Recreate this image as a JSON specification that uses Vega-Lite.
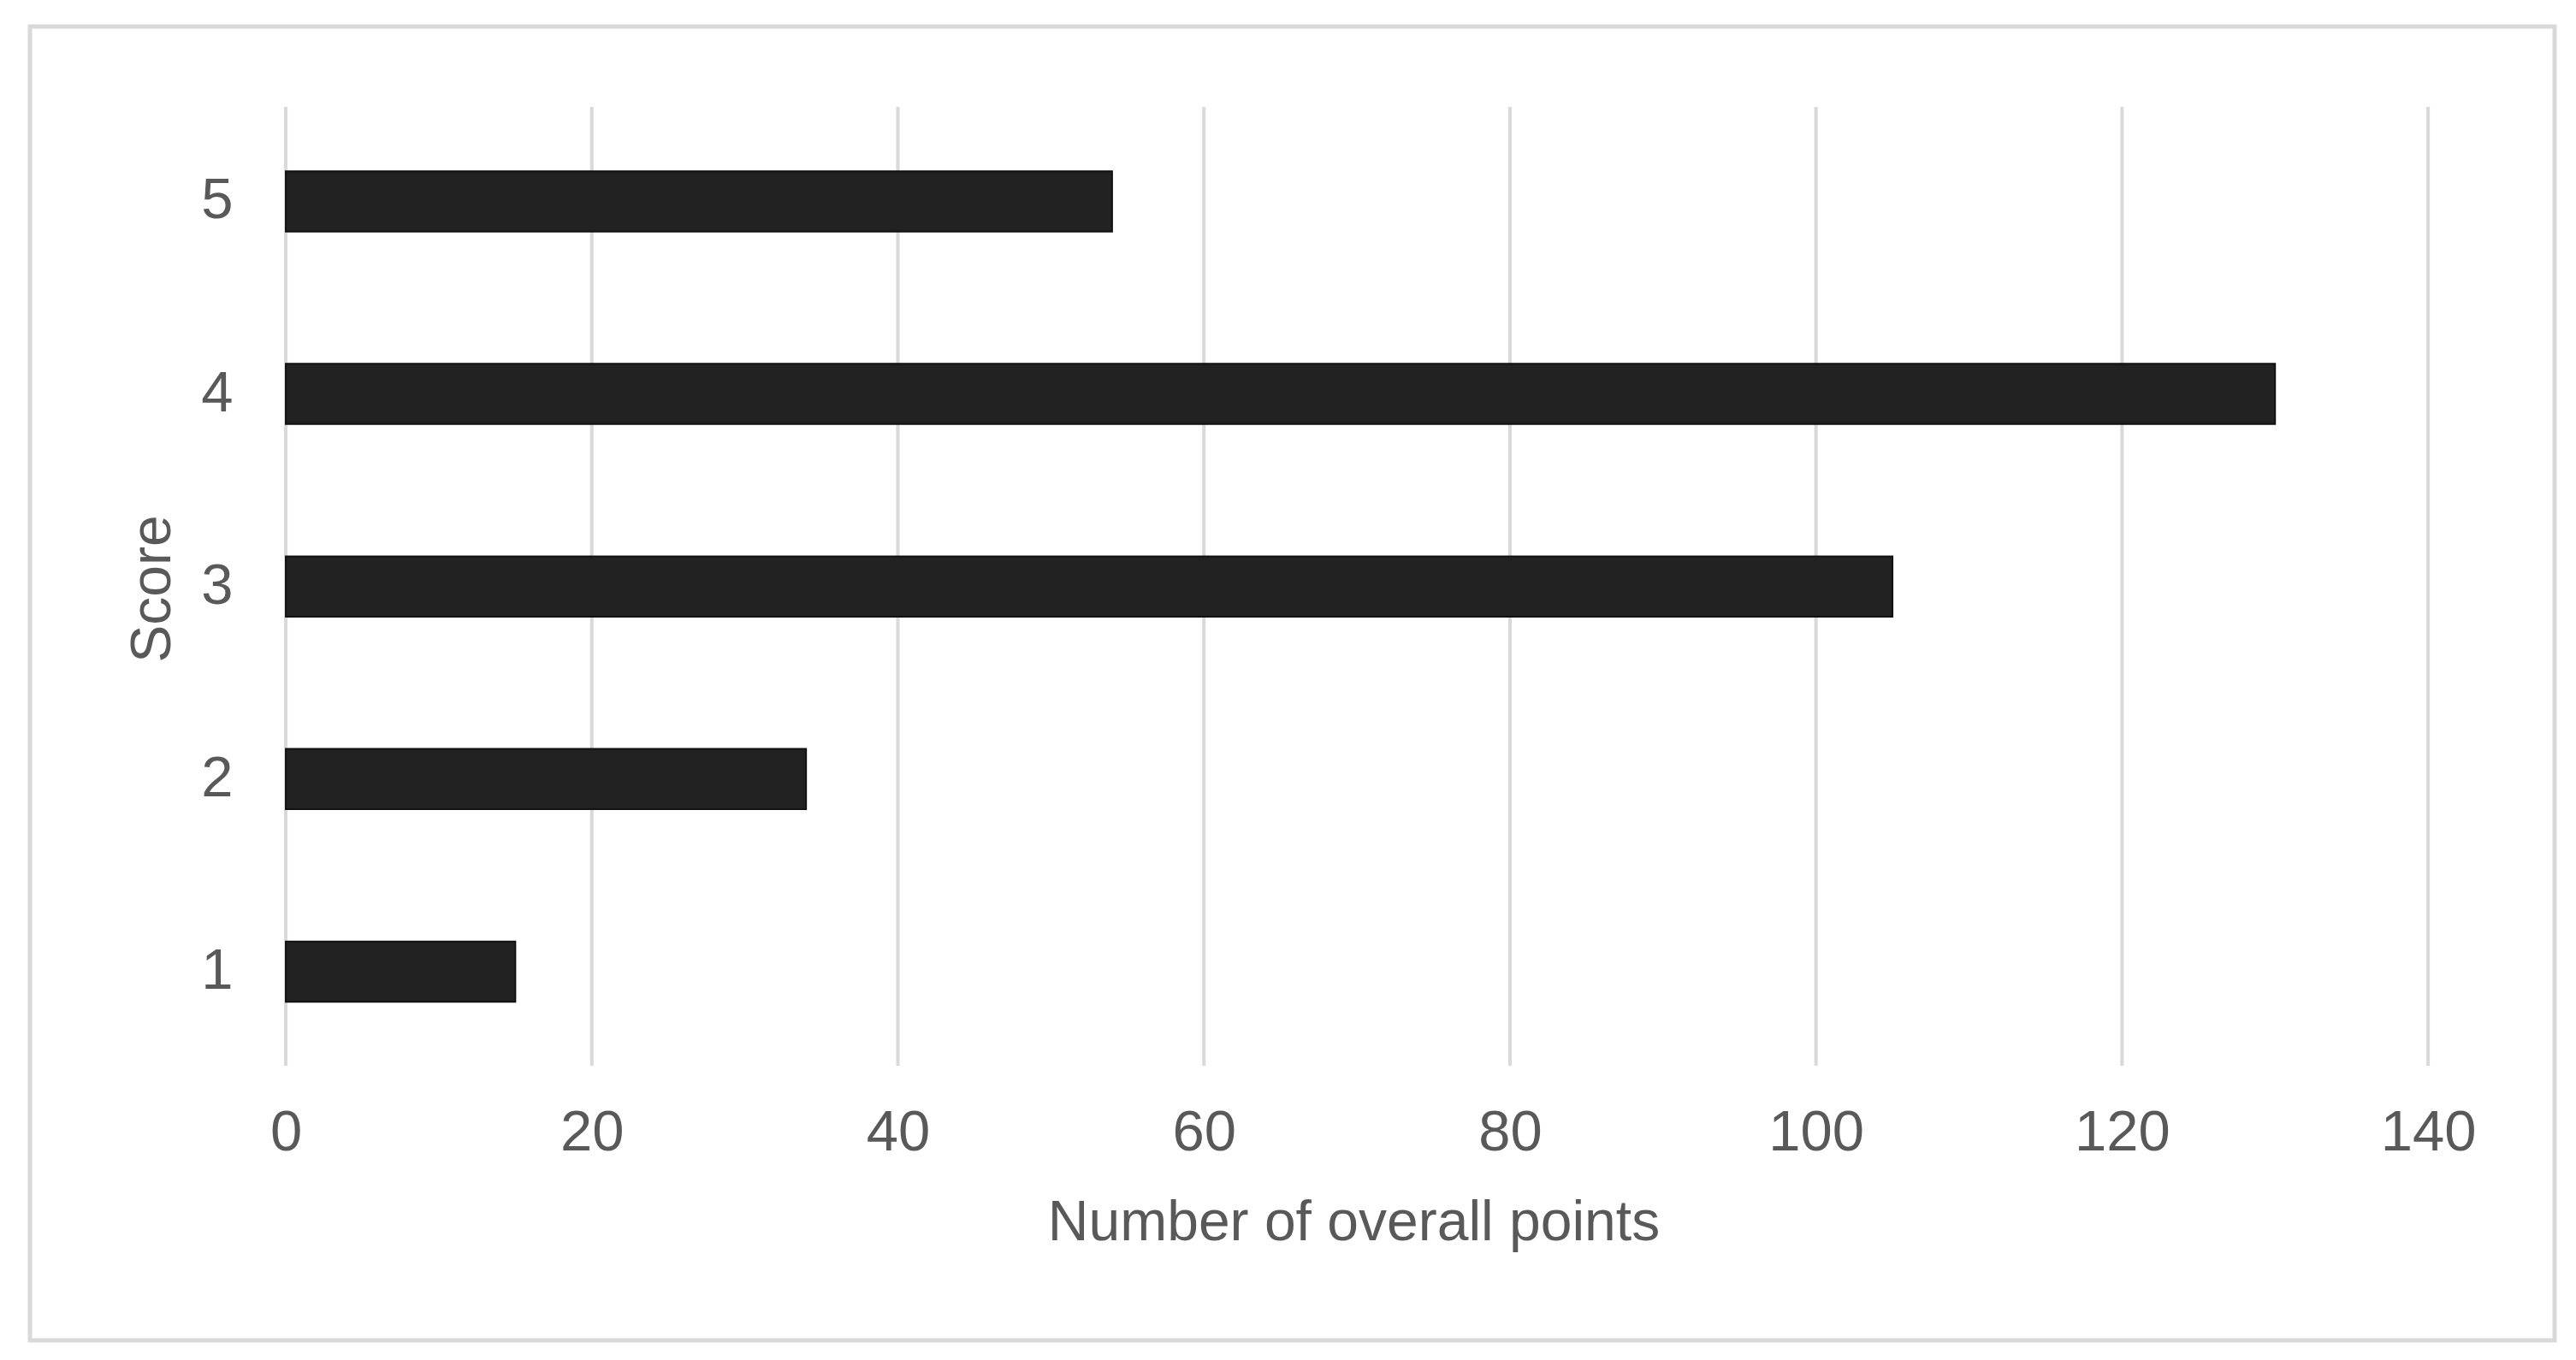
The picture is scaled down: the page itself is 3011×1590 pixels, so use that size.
{
  "$schema": "https://vega.github.io/schema/vega-lite/v6.json",
  "width": 2951,
  "height": 1536,
  "autosize": {"type": "none"},
  "padding": {"left": 35, "top": 31, "right": 25, "bottom": 23},
  "background": "white",
  "config": {
    "view": {"stroke": "#d9d9d9", "strokeWidth": 5},
    "font": "Liberation Sans"
  },
  "layer": [
    {
      "data": {"values": [{"tick": 0}, {"tick": 20}, {"tick": 40}, {"tick": 60}, {"tick": 80}, {"tick": 100}, {"tick": 120}, {"tick": 140}]},
      "mark": {"type": "rule", "color": "#d9d9d9", "strokeWidth": 4},
      "encoding": {
        "x": {"field": "tick", "type": "quantitative", "title": "Number of overall points",
              "scale": {"domain": [-16.72, 148.27], "nice": false, "zero": false}},
        "y": {"datum": 5, "type": "ordinal", "bandPosition": -0.0963, "title": "Score",
              "scale": {"domain": [5, 4, 3, 2, 1], "paddingInner": 0.177, "paddingOuter": 1, "align": 0.2484}},
        "y2": {"datum": 1, "bandPosition": 1.094}
      }
    },
    {
      "data": {"values": [
        {"Score": 5, "Points": 54},
        {"Score": 4, "Points": 130},
        {"Score": 3, "Points": 105},
        {"Score": 2, "Points": 34},
        {"Score": 1, "Points": 15}
      ]},
      "mark": {"type": "bar", "color": "#222222", "stroke": "#111111", "strokeWidth": 2, "height": {"band": 0.3805}},
      "encoding": {
        "y": {
          "field": "Score", "type": "ordinal", "title": "Score",
          "scale": {"domain": [5, 4, 3, 2, 1], "paddingInner": 0.177, "paddingOuter": 1, "align": 0.2484},
          "axis": {
            "title": "Score", "grid": false, "domain": false, "ticks": false, "tickSize": 0,
            "offset": -244, "labelPadding": 7, "labelFontSize": 67, "labelColor": "#595959",
            "labelFont": "Liberation Sans", "labelAlign": "right", "labelBaseline": "middle",
            "titleFontSize": 66, "titleFontWeight": "normal", "titleColor": "#595959", "titleFont": "Liberation Sans",
            "titleX": -101, "titleY": 657, "titleAngle": 270, "titleBaseline": "middle", "titleAlign": "center"
          }
        },
        "x": {
          "field": "Points", "type": "quantitative", "title": "Number of overall points",
          "scale": {"domain": [-16.72, 148.27], "nice": false, "zero": false},
          "axis": {
            "title": "Number of overall points", "values": [0, 20, 40, 60, 80, 100, 120, 140],
            "grid": false, "domain": false, "ticks": false, "tickSize": 0, "labelFlush": false,
            "offset": -250, "labelPadding": 7, "labelBaseline": "middle", "labelFontSize": 67,
            "labelColor": "#595959", "labelFont": "Liberation Sans",
            "titleFontSize": 66, "titleFontWeight": "normal", "titleColor": "#595959", "titleFont": "Liberation Sans",
            "titleX": 1547, "titleY": 112, "titleBaseline": "middle", "titleAlign": "center"
          }
        }
      }
    }
  ]
}
